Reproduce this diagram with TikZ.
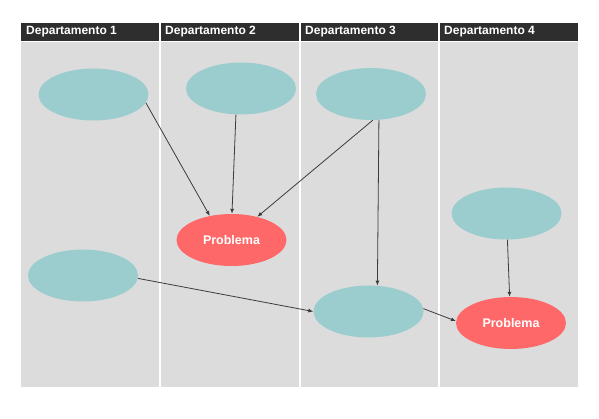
\documentclass[tikz,border=0pt]{standalone}
\usepackage{fontspec}
\setmainfont{Liberation Sans}
\usepackage{tikz}
\usetikzlibrary{arrows.meta, shapes.geometric}

\definecolor{panelgray}{HTML}{DCDCDC}
\definecolor{headdark}{HTML}{2E2E2E}
\definecolor{causeteal}{HTML}{9BCDCF}
\definecolor{probred}{HTML}{FF6868}
\definecolor{linegray}{HTML}{3C3C3C}

\begin{document}
\begin{tikzpicture}[x=1pt, y=-1pt,
    cause/.style={ellipse, fill=causeteal, minimum width=110pt, minimum height=52pt, inner sep=0pt},
    problema/.style={ellipse, fill=probred, minimum width=110pt, minimum height=52pt, inner sep=0pt,
        text=white, font=\fontsize{12.5}{14}\selectfont\bfseries},
    header/.style={anchor=west, text=white, inner sep=0pt, font=\fontsize{12}{14}\selectfont\bfseries},
    conn/.style={draw=linegray, line width=0.8pt, -{Latex[length=5pt, width=4pt]}}]
    \useasboundingbox (0,0) rectangle (599,419);

    % Panel and header bar
    \fill[panelgray] (21,41) rectangle (578,387);
    \fill[headdark] (21,23) rectangle (578,41);
    \draw[white, line width=1pt] (21,41.5) -- (578,41.5);
    \foreach \i/\x in {1/21, 2/160, 3/300, 4/439}
        \node[header] (h\i) at (\x+5,32) {Departamento \i};

    % Column dividers
    \foreach \x in {160, 300, 439}
        \draw[white, line width=1.5pt] (\x,23) -- (\x,387);

    % Causes
    \node[cause] (d1a) at (93.5,94.5) {};
    \node[cause] (d2a) at (241,88.5) {};
    \node[cause] (d3a) at (371,94) {};
    \node[cause] (d1b) at (83,275.5) {};
    \node[cause] (d3b) at (368.5,311.5) {};
    \node[cause] (d4a) at (506.5,213.5) {};

    % Problems
    \node[problema] (p1) at (231.5,240) {Problema};
    \node[problema] (p2) at (511,323) {Problema};

    % Connectors
    \draw[conn] (d1a.-9) -- (p1.132);
    \draw[conn] (d2a.-101) -- (p1.89);
    \draw[conn] (d3a.-86) -- (p1.42);
    \draw[conn] (d3a.-73) -- (d3b.71);
    \draw[conn] (d1b.-3) -- (d3b.180);
    \draw[conn] (d3b.3) -- (p2.178);
    \draw[conn] (d4a.-88) -- (p2.93);

\end{tikzpicture}
\end{document}
